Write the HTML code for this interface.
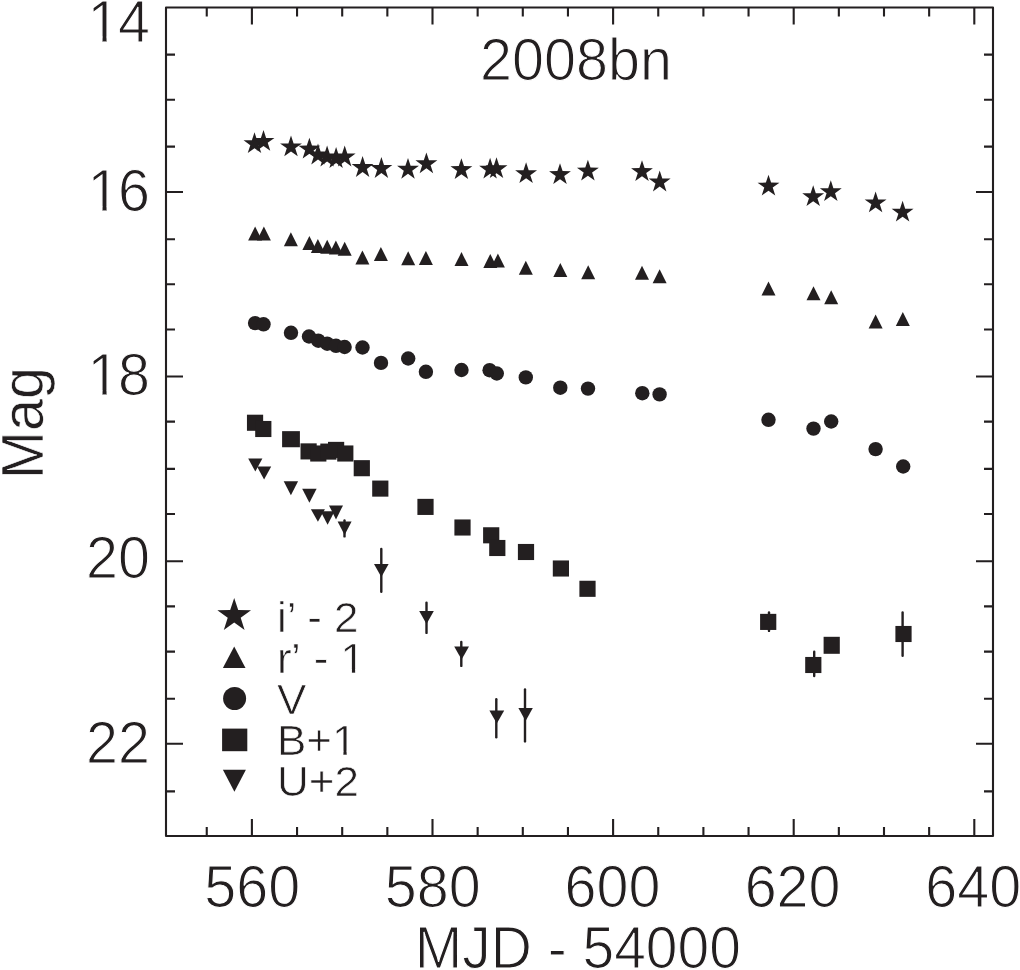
<!DOCTYPE html>
<html><head><meta charset="utf-8"><title>2008bn light curve</title>
<style>html,body{margin:0;padding:0;background:#fff;width:1020px;height:970px;overflow:hidden}</style>
</head><body><svg width="1020" height="970" viewBox="0 0 1020 970" style="display:block;font-family:'Liberation Sans',Arial,Helvetica,sans-serif"><defs><clipPath id="c0" clipPathUnits="userSpaceOnUse"><path clip-rule="evenodd" d="M-400 -400H400V120H-400ZM4.59 -5.20H16.51V3H4.59ZM20.49 -5.20H31.96V3H20.49Z"/></clipPath><clipPath id="c1" clipPathUnits="userSpaceOnUse"><path clip-rule="evenodd" d="M-400 -400H400V120H-400ZM4.59 -5.20H16.51V3H4.59ZM20.49 -5.20H31.96V3H20.49Z"/></clipPath><clipPath id="c2" clipPathUnits="userSpaceOnUse"><path clip-rule="evenodd" d="M-400 -400H400V120H-400ZM4.59 -5.20H16.51V3H4.59ZM20.49 -5.20H31.96V3H20.49Z"/></clipPath><clipPath id="c3" clipPathUnits="userSpaceOnUse"><path clip-rule="evenodd" d="M-400 -400H400V120H-400ZM65.88 -4.19H74.93V3H65.88ZM78.12 -4.19H86.83V3H78.12Z"/></clipPath><clipPath id="c4" clipPathUnits="userSpaceOnUse"><path clip-rule="evenodd" d="M-400 -400H400V120H-400ZM57.39 -4.19H66.44V3H57.39ZM69.63 -4.19H78.34V3H69.63Z"/></clipPath></defs><rect width="1020" height="970" fill="#fff"/><rect x="166.0" y="7.5" width="827.0" height="828.5" fill="none" stroke="#231f20" stroke-width="2.1" stroke-linejoin="round"/><path d="M206.75 836.0V827.00M206.75 7.5V16.50M251.90 836.0V819.00M251.90 7.5V24.50M297.05 836.0V827.00M297.05 7.5V16.50M342.20 836.0V827.00M342.20 7.5V16.50M387.35 836.0V827.00M387.35 7.5V16.50M432.50 836.0V819.00M432.50 7.5V24.50M477.65 836.0V827.00M477.65 7.5V16.50M522.80 836.0V827.00M522.80 7.5V16.50M567.95 836.0V827.00M567.95 7.5V16.50M613.10 836.0V819.00M613.10 7.5V24.50M658.25 836.0V827.00M658.25 7.5V16.50M703.40 836.0V827.00M703.40 7.5V16.50M748.55 836.0V827.00M748.55 7.5V16.50M793.70 836.0V819.00M793.70 7.5V24.50M838.85 836.0V827.00M838.85 7.5V16.50M884.00 836.0V827.00M884.00 7.5V16.50M929.15 836.0V827.00M929.15 7.5V16.50M974.30 836.0V819.00M974.30 7.5V24.50M166.0 54.60H175.00M993.0 54.60H984.00M166.0 99.80H175.00M993.0 99.80H984.00M166.0 146.60H175.00M993.0 146.60H984.00M166.0 192.05H183.00M993.0 192.05H976.00M166.0 239.20H175.00M993.0 239.20H984.00M166.0 284.30H175.00M993.0 284.30H984.00M166.0 329.50H175.00M993.0 329.50H984.00M166.0 376.45H183.00M993.0 376.45H976.00M166.0 421.60H175.00M993.0 421.60H984.00M166.0 468.90H175.00M993.0 468.90H984.00M166.0 514.00H175.00M993.0 514.00H984.00M166.0 561.20H183.00M993.0 561.20H976.00M166.0 606.40H175.00M993.0 606.40H984.00M166.0 651.65H175.00M993.0 651.65H984.00M166.0 698.70H175.00M993.0 698.70H984.00M166.0 743.80H183.00M993.0 743.80H976.00M166.0 791.40H175.00M993.0 791.40H984.00" stroke="#231f20" stroke-width="2.1" fill="none"/><text x="0" y="0" font-size="57.5" text-anchor="start" fill="#231f20" stroke="#fff" stroke-width="1.1" stroke-linejoin="miter" clip-path="url(#c0)" transform="translate(86.04 41.5) scale(1 1.035)" dx="1.5 -1.5">14</text><text x="0" y="0" font-size="57.5" text-anchor="start" fill="#231f20" stroke="#fff" stroke-width="1.1" stroke-linejoin="miter" clip-path="url(#c1)" transform="translate(86.04 210.8) scale(1 1.035)" dx="1.5 -1.5">16</text><text x="0" y="0" font-size="57.5" text-anchor="start" fill="#231f20" stroke="#fff" stroke-width="1.1" stroke-linejoin="miter" clip-path="url(#c2)" transform="translate(86.04 395.2) scale(1 1.035)" dx="1.5 -1.5">18</text><text x="0" y="0" font-size="57.5" text-anchor="end" fill="#231f20" stroke="#fff" stroke-width="1.1" stroke-linejoin="miter" transform="translate(150.0 578.2) scale(1 1.035)" >20</text><text x="0" y="0" font-size="57.5" text-anchor="end" fill="#231f20" stroke="#fff" stroke-width="1.1" stroke-linejoin="miter" transform="translate(150.0 762.6) scale(1 1.035)" >22</text><text x="0" y="0" font-size="57.5" text-anchor="middle" fill="#231f20" stroke="#fff" stroke-width="1.1" stroke-linejoin="miter" transform="translate(252.25 906.6) scale(1 1.035)" >560</text><text x="0" y="0" font-size="57.5" text-anchor="middle" fill="#231f20" stroke="#fff" stroke-width="1.1" stroke-linejoin="miter" transform="translate(432.7 906.6) scale(1 1.035)" >580</text><text x="0" y="0" font-size="57.5" text-anchor="middle" fill="#231f20" stroke="#fff" stroke-width="1.1" stroke-linejoin="miter" transform="translate(612.45 906.6) scale(1 1.035)" >600</text><text x="0" y="0" font-size="57.5" text-anchor="middle" fill="#231f20" stroke="#fff" stroke-width="1.1" stroke-linejoin="miter" transform="translate(792.6 906.6) scale(1 1.035)" >620</text><text x="0" y="0" font-size="57.5" text-anchor="middle" fill="#231f20" stroke="#fff" stroke-width="1.1" stroke-linejoin="miter" transform="translate(973.2 906.6) scale(1 1.035)" >640</text><text x="0" y="0" font-size="57.0" text-anchor="middle" fill="#231f20" stroke="#fff" stroke-width="1.1" stroke-linejoin="miter" transform="translate(577.8 967.8) scale(1 1.035)" >MJD - 54000</text><text x="0" y="0" font-size="57.5" text-anchor="middle" fill="#231f20" stroke="#fff" stroke-width="0.6" transform="translate(42.6 423) rotate(-90) scale(1 1.035)">Mag</text><text x="0" y="0" font-size="57.5" text-anchor="middle" fill="#231f20" stroke="#fff" stroke-width="1.1" stroke-linejoin="miter" transform="translate(576.0 80.0) scale(1 1.035)" >2008bn</text><g fill="#231f20"><polygon points="254.50,132.30 257.10,140.22 265.44,140.25 258.71,145.17 261.26,153.10 254.50,148.23 247.74,153.10 250.29,145.17 243.56,140.25 251.90,140.22"/><polygon points="263.50,130.00 266.10,137.92 274.44,137.95 267.71,142.87 270.26,150.80 263.50,145.93 256.74,150.80 259.29,142.87 252.56,137.95 260.90,137.92"/><polygon points="291.00,135.50 293.60,143.42 301.94,143.45 295.21,148.37 297.76,156.30 291.00,151.43 284.24,156.30 286.79,148.37 280.06,143.45 288.40,143.42"/><polygon points="309.40,137.70 312.00,145.62 320.34,145.65 313.61,150.57 316.16,158.50 309.40,153.63 302.64,158.50 305.19,150.57 298.46,145.65 306.80,145.62"/><polygon points="318.00,143.60 320.60,151.52 328.94,151.55 322.21,156.47 324.76,164.40 318.00,159.53 311.24,164.40 313.79,156.47 307.06,151.55 315.40,151.52"/><polygon points="327.10,145.60 329.70,153.52 338.04,153.55 331.31,158.47 333.86,166.40 327.10,161.53 320.34,166.40 322.89,158.47 316.16,153.55 324.50,153.52"/><polygon points="336.10,147.10 338.70,155.02 347.04,155.05 340.31,159.97 342.86,167.90 336.10,163.03 329.34,167.90 331.89,159.97 325.16,155.05 333.50,155.02"/><polygon points="344.70,145.60 347.30,153.52 355.64,153.55 348.91,158.47 351.46,166.40 344.70,161.53 337.94,166.40 340.49,158.47 333.76,153.55 342.10,153.52"/><polygon points="362.60,156.10 365.20,164.02 373.54,164.05 366.81,168.97 369.36,176.90 362.60,172.03 355.84,176.90 358.39,168.97 351.66,164.05 360.00,164.02"/><polygon points="381.40,157.10 384.00,165.02 392.34,165.05 385.61,169.97 388.16,177.90 381.40,173.03 374.64,177.90 377.19,169.97 370.46,165.05 378.80,165.02"/><polygon points="408.00,157.90 410.60,165.82 418.94,165.85 412.21,170.77 414.76,178.70 408.00,173.83 401.24,178.70 403.79,170.77 397.06,165.85 405.40,165.82"/><polygon points="426.40,152.40 429.00,160.32 437.34,160.35 430.61,165.27 433.16,173.20 426.40,168.33 419.64,173.20 422.19,165.27 415.46,160.35 423.80,160.32"/><polygon points="461.40,158.20 464.00,166.12 472.34,166.15 465.61,171.07 468.16,179.00 461.40,174.13 454.64,179.00 457.19,171.07 450.46,166.15 458.80,166.12"/><polygon points="490.10,157.80 492.70,165.72 501.04,165.75 494.31,170.67 496.86,178.60 490.10,173.73 483.34,178.60 485.89,170.67 479.16,165.75 487.50,165.72"/><polygon points="496.50,157.30 499.10,165.22 507.44,165.25 500.71,170.17 503.26,178.10 496.50,173.23 489.74,178.10 492.29,170.17 485.56,165.25 493.90,165.22"/><polygon points="526.10,162.30 528.70,170.22 537.04,170.25 530.31,175.17 532.86,183.10 526.10,178.23 519.34,183.10 521.89,175.17 515.16,170.25 523.50,170.22"/><polygon points="560.00,163.20 562.60,171.12 570.94,171.15 564.21,176.07 566.76,184.00 560.00,179.13 553.24,184.00 555.79,176.07 549.06,171.15 557.40,171.12"/><polygon points="587.90,159.70 590.50,167.62 598.84,167.65 592.11,172.57 594.66,180.50 587.90,175.63 581.14,180.50 583.69,172.57 576.96,167.65 585.30,167.62"/><polygon points="642.00,160.20 644.60,168.12 652.94,168.15 646.21,173.07 648.76,181.00 642.00,176.13 635.24,181.00 637.79,173.07 631.06,168.15 639.40,168.12"/><polygon points="659.70,170.60 662.30,178.52 670.64,178.55 663.91,183.47 666.46,191.40 659.70,186.53 652.94,191.40 655.49,183.47 648.76,178.55 657.10,178.52"/><polygon points="768.50,174.70 771.10,182.62 779.44,182.65 772.71,187.57 775.26,195.50 768.50,190.63 761.74,195.50 764.29,187.57 757.56,182.65 765.90,182.62"/><polygon points="813.20,185.30 815.80,193.22 824.14,193.25 817.41,198.17 819.96,206.10 813.20,201.23 806.44,206.10 808.99,198.17 802.26,193.25 810.60,193.22"/><polygon points="830.80,180.30 833.40,188.22 841.74,188.25 835.01,193.17 837.56,201.10 830.80,196.23 824.04,201.10 826.59,193.17 819.86,188.25 828.20,188.22"/><polygon points="875.60,191.50 878.20,199.42 886.54,199.45 879.81,204.37 882.36,212.30 875.60,207.43 868.84,212.30 871.39,204.37 864.66,199.45 873.00,199.42"/><polygon points="902.60,200.80 905.20,208.72 913.54,208.75 906.81,213.67 909.36,221.60 902.60,216.73 895.84,221.60 898.39,213.67 891.66,208.75 900.00,208.72"/><polygon points="255.10,226.60 262.10,240.60 248.10,240.60"/><polygon points="263.90,226.40 270.90,240.40 256.90,240.40"/><polygon points="290.90,232.30 297.90,246.30 283.90,246.30"/><polygon points="309.40,236.00 316.40,250.00 302.40,250.00"/><polygon points="317.90,239.10 324.90,253.10 310.90,253.10"/><polygon points="327.20,239.70 334.20,253.70 320.20,253.70"/><polygon points="335.90,240.60 342.90,254.60 328.90,254.60"/><polygon points="344.70,241.80 351.70,255.80 337.70,255.80"/><polygon points="362.40,250.40 369.40,264.40 355.40,264.40"/><polygon points="380.90,246.90 387.90,260.90 373.90,260.90"/><polygon points="408.20,251.30 415.20,265.30 401.20,265.30"/><polygon points="425.90,250.90 432.90,264.90 418.90,264.90"/><polygon points="461.50,252.10 468.50,266.10 454.50,266.10"/><polygon points="490.30,253.90 497.30,267.90 483.30,267.90"/><polygon points="497.90,253.60 504.90,267.60 490.90,267.60"/><polygon points="525.80,260.80 532.80,274.80 518.80,274.80"/><polygon points="560.30,263.00 567.30,277.00 553.30,277.00"/><polygon points="588.20,265.30 595.20,279.30 581.20,279.30"/><polygon points="642.00,265.70 649.00,279.70 635.00,279.70"/><polygon points="659.60,269.20 666.60,283.20 652.60,283.20"/><polygon points="768.50,281.50 775.50,295.50 761.50,295.50"/><polygon points="813.50,286.30 820.50,300.30 806.50,300.30"/><polygon points="831.20,290.30 838.20,304.30 824.20,304.30"/><polygon points="875.60,314.50 882.60,328.50 868.60,328.50"/><polygon points="902.80,311.90 909.80,325.90 895.80,325.90"/><circle cx="255.10" cy="323.10" r="7.2"/><circle cx="263.50" cy="324.30" r="7.2"/><circle cx="291.00" cy="332.80" r="7.2"/><circle cx="309.00" cy="336.50" r="7.2"/><circle cx="318.30" cy="340.70" r="7.2"/><circle cx="327.20" cy="343.70" r="7.2"/><circle cx="336.00" cy="345.80" r="7.2"/><circle cx="344.60" cy="347.00" r="7.2"/><circle cx="362.50" cy="347.50" r="7.2"/><circle cx="381.00" cy="362.90" r="7.2"/><circle cx="408.20" cy="358.50" r="7.2"/><circle cx="425.90" cy="371.80" r="7.2"/><circle cx="461.50" cy="370.00" r="7.2"/><circle cx="489.60" cy="370.20" r="7.2"/><circle cx="496.80" cy="373.50" r="7.2"/><circle cx="525.80" cy="377.40" r="7.2"/><circle cx="560.30" cy="387.70" r="7.2"/><circle cx="588.00" cy="388.60" r="7.2"/><circle cx="642.30" cy="393.20" r="7.2"/><circle cx="659.60" cy="394.40" r="7.2"/><circle cx="768.50" cy="419.80" r="7.2"/><circle cx="813.50" cy="428.60" r="7.2"/><circle cx="831.20" cy="421.50" r="7.2"/><circle cx="875.60" cy="449.10" r="7.2"/><circle cx="903.20" cy="466.50" r="7.2"/><line x1="769.00" y1="612.40" x2="769.00" y2="630.90" stroke="#231f20" stroke-width="2.4" stroke-linecap="round"/><line x1="814.20" y1="651.80" x2="814.20" y2="676.00" stroke="#231f20" stroke-width="2.4" stroke-linecap="round"/><line x1="902.60" y1="612.50" x2="902.60" y2="655.80" stroke="#231f20" stroke-width="2.4" stroke-linecap="round"/><rect x="246.95" y="414.70" width="16.2" height="16.1"/><rect x="255.20" y="420.95" width="16.2" height="16.1"/><rect x="282.10" y="431.15" width="17.8" height="16.1"/><rect x="300.50" y="443.35" width="16.2" height="16.1"/><rect x="310.20" y="445.45" width="16.2" height="16.1"/><rect x="320.30" y="443.55" width="16.2" height="16.1"/><rect x="328.00" y="441.85" width="16.2" height="16.1"/><rect x="337.20" y="445.45" width="16.2" height="16.1"/><rect x="353.70" y="460.15" width="16.2" height="16.1"/><rect x="372.20" y="480.55" width="16.2" height="16.1"/><rect x="417.40" y="498.85" width="16.2" height="16.1"/><rect x="454.40" y="519.45" width="16.2" height="16.1"/><rect x="483.10" y="527.25" width="16.2" height="16.1"/><rect x="489.20" y="539.95" width="16.2" height="16.1"/><rect x="517.90" y="543.95" width="16.2" height="16.1"/><rect x="552.80" y="560.45" width="16.2" height="16.1"/><rect x="579.40" y="580.75" width="16.2" height="16.1"/><rect x="760.10" y="613.85" width="16.2" height="16.1"/><rect x="805.20" y="656.95" width="16.2" height="16.1"/><rect x="823.60" y="636.80" width="16.2" height="17.0"/><rect x="895.40" y="625.95" width="16.2" height="16.1"/><line x1="344.50" y1="520.50" x2="344.50" y2="536.40" stroke="#231f20" stroke-width="2.4" stroke-linecap="round"/><line x1="381.30" y1="548.90" x2="381.30" y2="591.80" stroke="#231f20" stroke-width="2.4" stroke-linecap="round"/><line x1="426.50" y1="602.80" x2="426.50" y2="632.90" stroke="#231f20" stroke-width="2.4" stroke-linecap="round"/><line x1="461.30" y1="642.00" x2="461.30" y2="665.90" stroke="#231f20" stroke-width="2.4" stroke-linecap="round"/><line x1="496.30" y1="699.30" x2="496.30" y2="737.30" stroke="#231f20" stroke-width="2.4" stroke-linecap="round"/><line x1="525.00" y1="689.40" x2="525.00" y2="741.40" stroke="#231f20" stroke-width="2.4" stroke-linecap="round"/><polygon points="248.20,458.50 262.40,458.50 255.30,471.40"/><polygon points="257.00,466.50 271.20,466.50 264.10,479.40"/><polygon points="283.70,481.20 298.10,481.20 290.90,495.30"/><polygon points="302.20,488.80 316.60,488.80 309.40,502.70"/><polygon points="310.90,509.20 324.90,509.20 317.90,521.70"/><polygon points="320.60,511.30 334.60,511.30 327.60,524.80"/><polygon points="329.00,505.40 343.00,505.40 336.00,519.40"/><polygon points="337.60,521.60 351.60,521.60 344.60,535.10"/><polygon points="374.00,563.90 388.60,563.90 381.30,576.90"/><polygon points="419.20,611.10 433.80,611.10 426.50,624.10"/><polygon points="454.20,646.50 469.00,646.50 461.60,659.50"/><polygon points="489.40,710.40 504.20,710.40 496.80,723.40"/><polygon points="518.40,708.00 532.80,708.00 525.60,721.00"/><polygon points="234.20,597.90 238.21,610.09 251.03,610.13 240.68,617.71 244.60,629.92 234.20,622.41 223.80,629.92 227.72,617.71 217.37,610.13 230.19,610.09"/><polygon points="234.20,646.50 245.50,668.00 222.90,668.00"/><circle cx="234.60" cy="698.50" r="11.5"/><rect x="222.1" y="728.6" width="25.2" height="22.6"/><polygon points="222.90,769.70 245.90,769.70 234.40,791.80"/></g><text x="0" y="0" font-size="44.0" text-anchor="start" fill="#231f20" stroke="#fff" stroke-width="0.7" stroke-linejoin="miter" transform="translate(277.0 632.0) scale(1 0.985)" >i’ - 2</text><text x="0" y="0" font-size="44.0" text-anchor="start" fill="#231f20" stroke="#fff" stroke-width="0.7" stroke-linejoin="miter" clip-path="url(#c3)" transform="translate(277.0 672.6) scale(1 0.985)" dx="0 -2.4 2.4">r’ - 1</text><text x="0" y="0" font-size="44.0" text-anchor="start" fill="#231f20" stroke="#fff" stroke-width="0.7" stroke-linejoin="miter" transform="translate(277.0 713.8) scale(1 0.985)" >V</text><text x="0" y="0" font-size="44.0" text-anchor="start" fill="#231f20" stroke="#fff" stroke-width="0.7" stroke-linejoin="miter" clip-path="url(#c4)" transform="translate(277.0 754.7) scale(1 0.985)" >B+1</text><text x="0" y="0" font-size="44.0" text-anchor="start" fill="#231f20" stroke="#fff" stroke-width="0.7" stroke-linejoin="miter" transform="translate(277.0 795.6) scale(1 0.985)" >U+2</text></svg></body></html>
